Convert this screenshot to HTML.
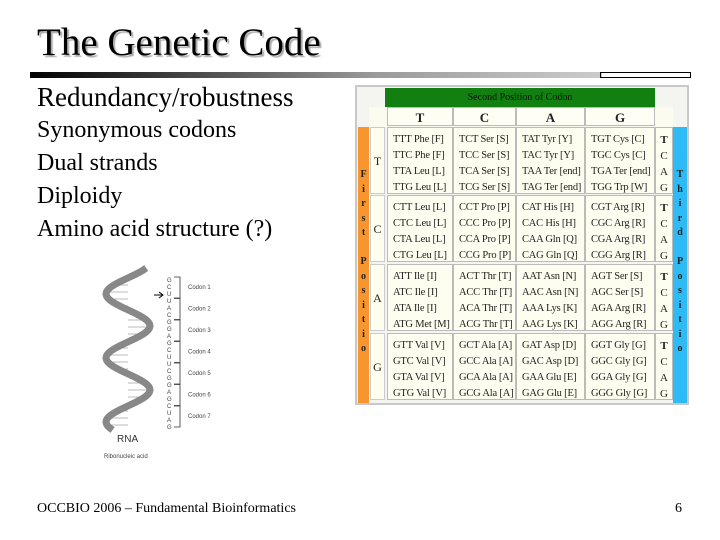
<!DOCTYPE html>
<html><head><meta charset="utf-8"><style>
body{margin:0;width:720px;height:540px;background:#fff;position:relative;overflow:hidden;font-family:"Liberation Serif",serif;}
.a{position:absolute;}
.t{font-family:"Liberation Serif",serif;font-size:13px;color:#222;white-space:nowrap;}
.bul{font-size:24px;color:#000;left:37px;}
</style></head><body>
<div class="a" style="left:37px;top:20px;font-size:39px;color:#000;text-shadow:2px 2px 1px #aaa;">The Genetic Code</div>
<div class="a" style="left:30px;top:72px;width:572px;height:6px;background:linear-gradient(to right,#000,#999 60%,#ccc);"></div>
<div class="a" style="left:600px;top:72px;width:89px;height:4px;border:1px solid #000;"></div>
<div class="a bul" style="top:82px;font-size:27px;">Redundancy/robustness</div>
<div class="a bul" style="top:117px;">Synonymous codons</div>
<div class="a bul" style="top:150px;">Dual strands</div>
<div class="a bul" style="top:183px;">Diploidy</div>
<div class="a bul" style="top:216px;">Amino acid structure (?)</div>
<div class="a" style="left:37px;top:501px;font-size:14px;">OCCBIO 2006 – Fundamental Bioinformatics</div>
<div class="a" style="left:675px;top:501px;font-size:14px;">6</div>

<svg class="a" style="left:90px;top:260px" width="140" height="210" viewBox="90 260 140 210">
<g id="hx"></g>
<path d="M154 295 L162 295 M159 292 L163 295 L159 298" stroke="#000" fill="none"/>
<g id="seq" font-family="Liberation Sans,sans-serif" font-size="6" fill="#444"></g>
<text x="117" y="442" font-family="Liberation Sans,sans-serif" font-size="10" fill="#333">RNA</text>
<text x="104" y="458" font-family="Liberation Sans,sans-serif" font-size="6" fill="#444">Ribonucleic acid</text>
</svg>

<div class="a" id="tbl" style="left:355px;top:85px;width:334px;height:320px;background:#f4f4f0;box-shadow:inset 0 0 0 2px #c8c8c8;"></div>

<script>
const firstBases=['T','C','A','G'];
const secondBases=['T','C','A','G'];
const thirdBases=['T','C','A','G'];
const codonCells=[
['TTT Phe [F]','TCT Ser [S]','TAT Tyr [Y]','TGT Cys [C]'],
['TTC Phe [F]','TCC Ser [S]','TAC Tyr [Y]','TGC Cys [C]'],
['TTA Leu [L]','TCA Ser [S]','TAA Ter [end]','TGA Ter [end]'],
['TTG Leu [L]','TCG Ser [S]','TAG Ter [end]','TGG Trp [W]'],
['CTT Leu [L]','CCT Pro [P]','CAT His [H]','CGT Arg [R]'],
['CTC Leu [L]','CCC Pro [P]','CAC His [H]','CGC Arg [R]'],
['CTA Leu [L]','CCA Pro [P]','CAA Gln [Q]','CGA Arg [R]'],
['CTG Leu [L]','CCG Pro [P]','CAG Gln [Q]','CGG Arg [R]'],
['ATT Ile [I]','ACT Thr [T]','AAT Asn [N]','AGT Ser [S]'],
['ATC Ile [I]','ACC Thr [T]','AAC Asn [N]','AGC Ser [S]'],
['ATA Ile [I]','ACA Thr [T]','AAA Lys [K]','AGA Arg [R]'],
['ATG Met [M]','ACG Thr [T]','AAG Lys [K]','AGG Arg [R]'],
['GTT Val [V]','GCT Ala [A]','GAT Asp [D]','GGT Gly [G]'],
['GTC Val [V]','GCC Ala [A]','GAC Asp [D]','GGC Gly [G]'],
['GTA Val [V]','GCA Ala [A]','GAA Glu [E]','GGA Gly [G]'],
['GTG Val [V]','GCG Ala [A]','GAG Glu [E]','GGG Gly [G]']];
const rnaSeq=['G','C','U','U','A','C','G','G','A','G','C','U','U','C','G','G','A','G','C','U','A','G'];
const codonLabels=['Codon 1','Codon 2','Codon 3','Codon 4','Codon 5','Codon 6','Codon 7'];

const T=document.getElementById('tbl');
function box(x,y,w,h,st,txt,name){const d=document.createElement('div');d.className='a t';
d.style.cssText+=`left:${x-355}px;top:${y-85}px;width:${w}px;height:${h}px;overflow:hidden;`+st;
if(txt!==undefined)d.textContent=txt;


T.appendChild(d);return d;}
const colX=[387,453,516,585,655];
box(385,88,270,19,'background:#118011;color:#111;font-size:10px;text-align:center;line-height:19px;','Second Position of Codon','second-position-header');
box(369,107,304,20,'background:#fbfbf0;','', 'header-row-bg');
secondBases.forEach((b,i)=>{box(colX[i],107,colX[i+1]-colX[i],19,'font-weight:bold;text-align:center;line-height:19px;border:1px solid #bbb;box-sizing:border-box;background:#fefef4;',b,'second-base-'+b);});
box(358,127,11,276,'background:#f7962f;','','first-position-strip');
box(673,127,14,276,'background:#2ebaf5;','','third-position-strip');
const fp=box(358,168,11,190,'font-size:10px;font-weight:bold;line-height:14.5px;text-align:center;');

fp.innerHTML='F<br>i<br>r<br>s<br>t<br><br>P<br>o<br>s<br>i<br>t<br>i<br>o<br>n';
const tp=box(673,168,14,190,'font-size:10px;font-weight:bold;line-height:14.5px;text-align:center;');

tp.innerHTML='T<br>h<br>i<br>r<br>d<br><br>P<br>o<br>s<br>i<br>t<br>i<br>o<br>n';
const blockY=[127,195,264,333],blockH=67;
firstBases.forEach((f,bi)=>{
 const y0=blockY[bi];
 box(370,y0,15,blockH,'background:#fdfdf0;border:1px solid #ccc;box-sizing:border-box;text-align:center;line-height:'+blockH+'px;font-size:12px;',f,'first-base-'+f);
 for(let c=0;c<4;c++){
  const cell=box(colX[c],y0,colX[c+1]-colX[c],blockH,'background:#fdfdf0;border:1px solid #bbb;box-sizing:border-box;padding:4px 0 0 5px;line-height:16px;font-size:10.5px;letter-spacing:-0.2px;');
  
  cell.innerHTML=[0,1,2,3].map(r=>codonCells[bi*4+r][c]).join('<br>');
 }
 const tc=box(655,y0,18,blockH,'background:#fdfdf0;border:1px solid #bbb;box-sizing:border-box;text-align:center;padding-top:4px;line-height:16px;font-size:11px;');
 
 tc.innerHTML=thirdBases.map((b,i)=>i==0?'<b>'+b+'</b>':b).join('<br>');
});

const hx=document.getElementById('hx');
const ns='http://www.w3.org/2000/svg';
let d='';for(let y=268;y<=430;y+=2){const x=128+22*Math.cos((y-268)*Math.PI/32+0.6);d+=(y==268?'M':'L')+x.toFixed(1)+' '+y;}
const p=document.createElementNS(ns,'path');p.setAttribute('d',d);p.setAttribute('stroke','#888');p.setAttribute('stroke-width','7');p.setAttribute('fill','none');


for(let y=285;y<=425;y+=7){const x=128+22*Math.cos((y-268)*Math.PI/32+0.6);const l=document.createElementNS(ns,'line');l.setAttribute('x1',x);l.setAttribute('x2',128);l.setAttribute('y1',y);l.setAttribute('y2',y);l.setAttribute('stroke','#bbb');


hx.appendChild(l);}
hx.appendChild(p);
const sq=document.getElementById('seq');
rnaSeq.forEach((b,i)=>{const t=document.createElementNS(ns,'text');t.setAttribute('x',167);t.setAttribute('y',282+i*7);t.textContent=b;


sq.appendChild(t);});
codonLabels.forEach((c,i)=>{const y0=277+i*21.5;
const br=document.createElementNS(ns,'path');br.setAttribute('d',`M174 ${y0} L180 ${y0} L180 ${y0+21} L174 ${y0+21}`);br.setAttribute('stroke','#333');br.setAttribute('fill','none');br.setAttribute('stroke-width','0.8');


sq.appendChild(br);
const t=document.createElementNS(ns,'text');t.setAttribute('x',188);t.setAttribute('y',y0+12);t.textContent=c;


sq.appendChild(t);});
</script>
</body></html>
